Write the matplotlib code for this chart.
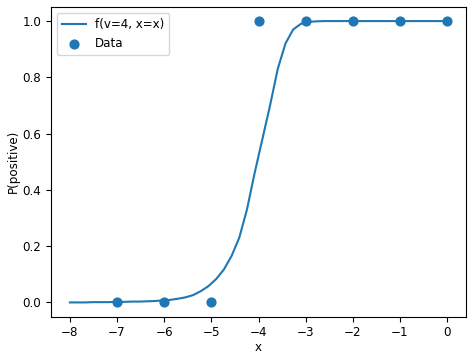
import numpy as np
import matplotlib
matplotlib.use("Agg")
import matplotlib.pyplot as plt

# curve sampled on 50 points from -8 to 0
curve_x = np.linspace(-8, 0, 50)
curve_y = [0.000, 0.000, 0.000, 0.001, 0.001, 0.001, 0.002, 0.002, 0.003, 0.003,
           0.004, 0.005, 0.007, 0.009, 0.013, 0.018, 0.026, 0.040, 0.058, 0.083,
           0.117, 0.165, 0.230, 0.330, 0.460, 0.580, 0.700, 0.830, 0.920, 0.970,
           0.990, 0.997, 0.999, 1.000, 1.000, 1.000, 1.000, 1.000, 1.000, 1.000,
           1.000, 1.000, 1.000, 1.000, 1.000, 1.000, 1.000, 1.000, 1.000, 1.000]

data_x = [-7, -6, -5, -4, -3, -2, -1, 0]
data_y = [0, 0, 0, 1, 1, 1, 1, 1]

plt.rcParams["font.size"] = 8.6
dpi = 100
fig = plt.figure(figsize=(474 / dpi, 361 / dpi), dpi=dpi)
ax = fig.add_axes([51 / 474, 1 - 316.5 / 361, (466 - 51) / 474, (316.5 - 7) / 361])
ax.plot(curve_x, curve_y, label="f(v=4, x=x)", lw=1.5)
ax.scatter(data_x, data_y, label="Data", s=40)
ax.set_xlabel("x", labelpad=1.5)
ax.set_ylabel("P(positive)", labelpad=1.5)
ax.legend(loc="upper left")
fig.savefig("out.png", dpi=dpi)
